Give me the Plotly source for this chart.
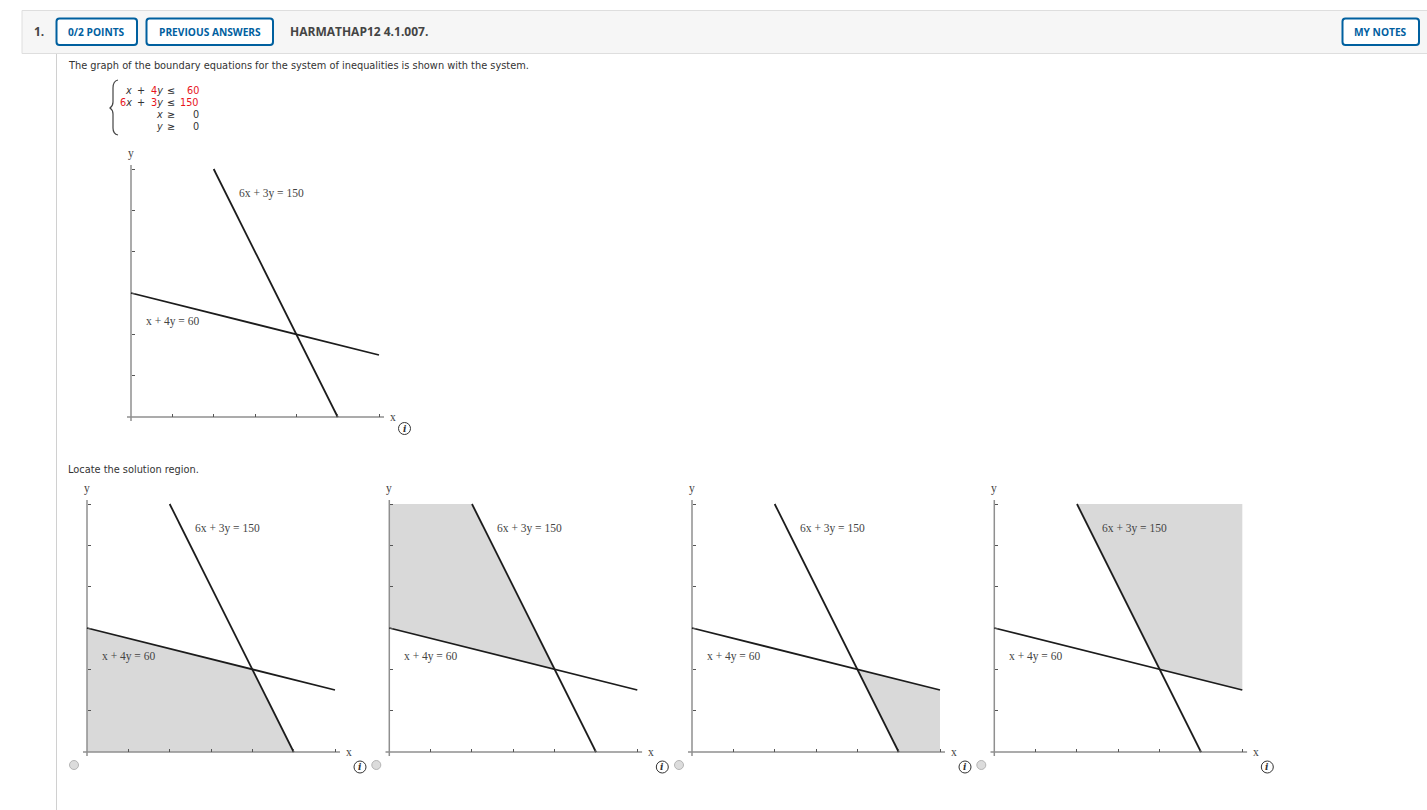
import plotly.graph_objects as go

W, H = 1427, 810

# boundary lines, x and y values of the two ends
line1_x = [0, 30]
line1_y = [15, 7.5]
line2_x = [10, 25]
line2_y = [30, 0]
tick_vals = [5, 10, 15, 20, 25, 30]

# shaded regions of the four answer graphs
region_x = [
    [0, 0, 20, 25],
    [0, 0, 10, 20],
    [20, 30, 30, 25],
    [20, 10, 30, 30],
]
region_y = [
    [0, 15, 10, 0],
    [15, 30, 30, 10],
    [10, 7.5, 0, 0],
    [10, 30, 30, 7.5],
]

# system of inequalities, one list per column
col_x = ['<i>x</i>', '<span style="color:#e8141c">6</span><i>x</i>', '', '']
col_plus = ['+', '+', '', '']
col_y = ['<span style="color:#e8141c">4</span><i>y</i>', '<span style="color:#e8141c">3</span><i>y</i>', '<i>x</i>', '<i>y</i>']
col_rel = ['≤', '≤', '≥', '≥']
col_rhs = ['<span style="color:#e8141c">60</span>', '<span style="color:#e8141c">150</span>', '0', '0']

LABEL1 = "x + 4y = 60"
LABEL2 = "6x + 3y = 150"

BLUE = "#00609f"
TEXT = "#333333"
SCALE = 248 / 30


def px(x):
    return x / W


def py(y):
    return 1 - y / H


fig = go.Figure()


def text(x, y, s, size=10, anchor="left", family="DejaVu Sans", color=TEXT):
    fig.add_annotation(
        x=px(x), y=py(y), xref="paper", yref="paper", text=s, showarrow=False,
        xanchor=anchor, yanchor="middle", font=dict(size=size, family=family, color=color),
        borderpad=0, borderwidth=0,
    )


def box(x0, y0, x1, y1, **kw):
    fig.add_shape(type="rect", xref="paper", yref="paper",
                  x0=px(x0), x1=px(x1), y0=py(y0), y1=py(y1), **kw)


def circle(cx, cy, r, fill, edge, width=1):
    fig.add_shape(type="circle", xref="paper", yref="paper",
                  x0=px(cx - r), x1=px(cx + r), y0=py(cy - r), y1=py(cy + r),
                  fillcolor=fill, line=dict(color=edge, width=width))


def button(x0, x1, label):
    y0, y1, r = 18.5, 45, 3
    path = (
        f"M {px(x0 + r)} {py(y0)} L {px(x1 - r)} {py(y0)} Q {px(x1)} {py(y0)} {px(x1)} {py(y0 + r)} "
        f"L {px(x1)} {py(y1 - r)} Q {px(x1)} {py(y1)} {px(x1 - r)} {py(y1)} "
        f"L {px(x0 + r)} {py(y1)} Q {px(x0)} {py(y1)} {px(x0)} {py(y1 - r)} "
        f"L {px(x0)} {py(y0 + r)} Q {px(x0)} {py(y0)} {px(x0 + r)} {py(y0)} Z"
    )
    fig.add_shape(type="path", path=path, xref="paper", yref="paper",
                  fillcolor="white", line=dict(color=BLUE, width=2))
    text((x0 + x1) / 2, 32, f"<b>{label}</b>", size=10.2, anchor="center", family="Open Sans", color=BLUE)


def graph(n, x0, y0, shade=None):
    # x0, y0 is the pixel position of the origin
    xa, ya = f"x{n}", f"y{n}"
    left, right = x0 - 4, x0 + 253
    top, bottom = y0 - 252, y0 + 4
    x_range = [(left - x0) / SCALE, (right - x0) / SCALE]
    y_range = [(y0 - bottom) / SCALE, (y0 - top) / SCALE]

    fig.update_layout(**{
        f"xaxis{n}": dict(
            domain=[px(left), px(right)], range=x_range,
            anchor="free", position=py(y0),
            tickmode="array", tickvals=tick_vals, ticks="inside", ticklen=3,
            tickcolor="#555", tickwidth=1, showticklabels=False,
            showgrid=False, zeroline=False, showline=False,
        ),
        f"yaxis{n}": dict(
            domain=[py(bottom), py(top)], range=y_range,
            anchor="free", position=px(x0),
            tickmode="array", tickvals=tick_vals, ticks="inside", ticklen=3,
            tickcolor="#555", tickwidth=1, showticklabels=False,
            showgrid=False, zeroline=False, showline=False,
        ),
    })

    if shade is not None:
        fig.add_trace(go.Scatter(
            x=region_x[shade], y=region_y[shade], xaxis=xa, yaxis=ya, mode="lines",
            fill="toself", fillcolor="#d9d9d9", line=dict(width=0), hoverinfo="skip", showlegend=False,
        ))

    # axis lines run a little past the origin
    for lx, ly in [(x_range, [0, 0]), ([0, 0], y_range)]:
        fig.add_trace(go.Scatter(
            x=lx, y=ly, xaxis=xa, yaxis=ya, mode="lines", cliponaxis=False,
            line=dict(color="#8f8f8f", width=1.5), hoverinfo="skip", showlegend=False,
        ))

    for lx, ly in [(line1_x, line1_y), (line2_x, line2_y)]:
        fig.add_trace(go.Scatter(
            x=lx, y=ly, xaxis=xa, yaxis=ya, mode="lines",
            line=dict(color="#1c1c1c", width=1.8), hoverinfo="skip", showlegend=False,
        ))

    serif = dict(size=11.5, family="Liberation Serif", color="#444")
    for x, y, s in [(17, 27, LABEL2), (5, 11.6, LABEL1)]:
        fig.add_annotation(x=x, y=y, xref=xa, yref=ya, text=s, showarrow=False,
                           font=serif, xanchor="center", yanchor="middle")
    fig.add_annotation(x=0, y=30, xref=xa, yref=ya, text="y", showarrow=False, yshift=16, font=serif)
    fig.add_annotation(x=30, y=0, xref=xa, yref=ya, text="x", showarrow=False, xshift=14, font=serif)


def info(cx, cy):
    circle(cx, cy, 6, "white", "#333", 1)
    text(cx, cy, "<b><i>i</i></b>", size=9, anchor="center", family="DejaVu Serif", color="#333")


# page frame
box(22, 10.5, 1440, 53.5, fillcolor="#f6f6f6", line=dict(color="#dedede", width=1))
fig.add_shape(type="line", xref="paper", yref="paper", x0=px(56.5), x1=px(56.5), y0=py(54), y1=0,
              line=dict(color="#d0d0d0", width=1))
text(34, 31.5, "<b>1.</b>", size=12, family="Open Sans", color="#444")
button(56.5, 137, "0/2 POINTS")
button(146.5, 273, "PREVIOUS ANSWERS")
button(1342.5, 1419, "MY NOTES")
text(289.5, 31.5, "<b>HARMATHAP12 4.1.007.</b>", size=12, family="Open Sans", color="#444")
text(67.5, 65, "The graph of the boundary equations for the system of inequalities is shown with the system.", size=9.8)
text(67.5, 469, "Locate the solution region.", size=9.8)

# the system
for i in range(4):
    yy = 90.7 + 12 * i
    if col_x[i]:
        text(131.5, yy, col_x[i], size=9.7, anchor="right")
    if col_plus[i]:
        text(141, yy, col_plus[i], size=9.7, anchor="center")
    text(163, yy, col_y[i], size=9.7, anchor="right")
    text(171, yy, col_rel[i], size=9.7, anchor="center")
    text(199.5, yy, col_rhs[i], size=9.7, anchor="right")

brace = (
    f"M {px(118)} {py(80)} Q {px(113)} {py(81)} {px(113)} {py(88)} L {px(113)} {py(102)} "
    f"Q {px(113)} {py(106)} {px(110)} {py(108)} Q {px(113)} {py(110)} {px(113)} {py(114)} "
    f"L {px(113)} {py(128)} Q {px(113)} {py(134)} {px(118)} {py(135)}"
)
fig.add_shape(type="path", path=brace, xref="paper", yref="paper", line=dict(color="#444", width=1.2))

graph(1, 131, 417)
info(404.5, 428.5)

for k, ox in enumerate([87, 389.3, 692, 994.3]):
    graph(k + 2, ox, 752, shade=k)
    circle(ox - 13, 765, 4.5, "#dcdcdc", "#b5b5b5")
    info(ox + 273, 767)

fig.update_layout(
    width=W, height=H,
    margin=dict(l=0, r=0, t=0, b=0),
    paper_bgcolor="white", plot_bgcolor="rgba(0,0,0,0)",
    showlegend=False,
)

fig.write_html("out.html", config=dict(displayModeBar=False), post_script="document.body.style.margin='0';")
